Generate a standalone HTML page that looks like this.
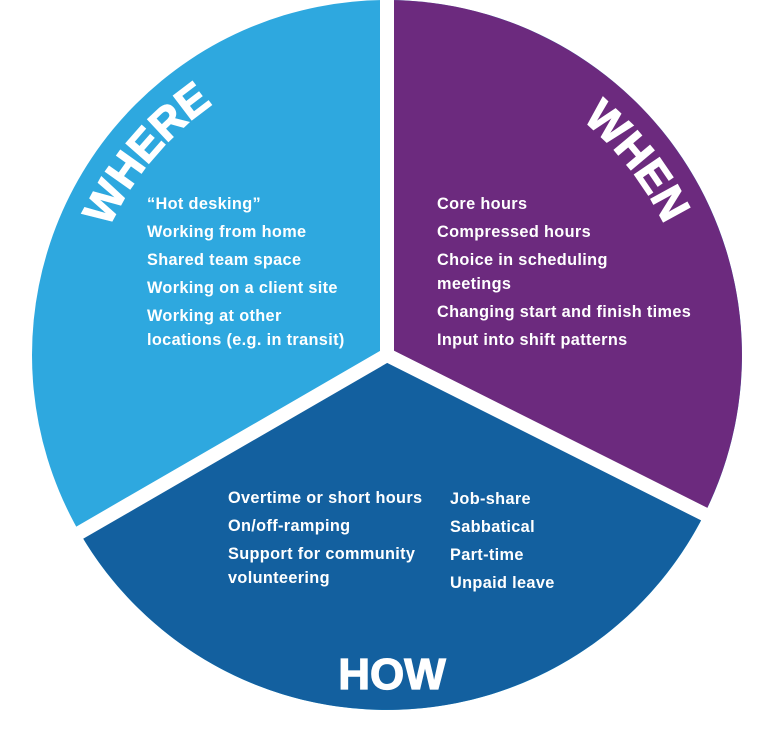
<!DOCTYPE html>
<html><head><meta charset="utf-8"><style>
html,body{margin:0;padding:0;background:#fff;width:772px;height:729px;overflow:hidden}
svg{display:block}
.t{font-family:"Liberation Sans",sans-serif;font-weight:bold;font-size:16.3px;letter-spacing:0.35px;fill:#fff}
.h{font-family:"Liberation Sans",sans-serif;font-weight:900;font-size:44px;fill:#fff;stroke:#fff;stroke-width:1.2}
</style></head><body>
<svg width="772" height="729" viewBox="0 0 772 729">
<defs>
<path id="pw" d="M82.5,382.5 A305,305 0 0 1 360.4,51.2"/>
<path id="pn" d="M424.2,52.3 A308,308 0 0 1 692.7,393.6"/>
</defs>
<circle cx="387" cy="355" r="355" fill="#2EA8DF"/>
<path d="M387,355 L387,0 A355,355 0 0 1 705.2,512.3 Z" fill="#6C2A7E"/>
<path d="M387,355 L705.2,512.3 A355,355 0 0 1 79.6,532.5 Z" fill="#13609F"/>
<g stroke="#fff" stroke-width="14" stroke-linecap="butt">
<line x1="387" y1="355" x2="387" y2="-5"/>
<line x1="387" y1="355" x2="712" y2="518"/>
<line x1="387" y1="355" x2="74" y2="536"/>
</g>
<text class="h"><textPath href="#pw" startOffset="50%" text-anchor="middle">WHERE</textPath></text>
<text class="h"><textPath href="#pn" startOffset="50%" text-anchor="middle">WHEN</textPath></text>
<text class="h" x="392" y="689" text-anchor="middle" font-size="48">HOW</text>
<g class="t">
<text x="147" y="209">“Hot desking”</text>
<text x="147" y="237">Working from home</text>
<text x="147" y="265">Shared team space</text>
<text x="147" y="293">Working on a client site</text>
<text x="147" y="321">Working at other</text>
<text x="147" y="345">locations (e.g. in transit)</text>
<text x="437" y="209">Core hours</text>
<text x="437" y="237">Compressed hours</text>
<text x="437" y="265">Choice in scheduling</text>
<text x="437" y="289">meetings</text>
<text x="437" y="317">Changing start and finish times</text>
<text x="437" y="345">Input into shift patterns</text>
<text x="228" y="503">Overtime or short hours</text>
<text x="228" y="531">On/off-ramping</text>
<text x="228" y="559">Support for community</text>
<text x="228" y="583">volunteering</text>
<text x="450" y="504">Job-share</text>
<text x="450" y="532">Sabbatical</text>
<text x="450" y="560">Part-time</text>
<text x="450" y="588">Unpaid leave</text>
</g>
</svg>
</body></html>
